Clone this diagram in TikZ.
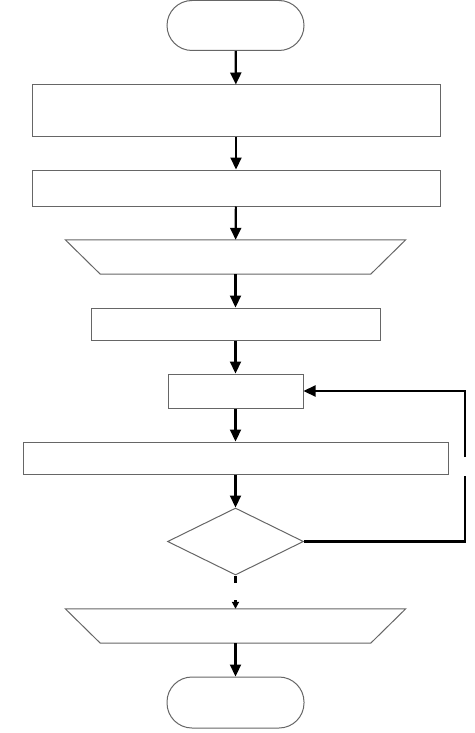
\documentclass[tikz,border=0pt]{standalone}
\usetikzlibrary{shapes.geometric,arrows.meta}

\begin{document}
\begin{tikzpicture}[
  x=1pt, y=-1pt,
  shp/.style     = {draw=black!60, line width=1pt, inner sep=0pt, fill=white},
  term/.style    = {shp, rounded corners=25pt, minimum width=137pt},
  box/.style     = {shp, rectangle},
  io/.style      = {rectangle, inner sep=0pt, minimum width=340pt, minimum height=34pt},
  dec/.style     = {shp, diamond, aspect=2, minimum width=136pt, minimum height=67pt},
  conn/.style    = {line width=2.2pt},
  arr/.style     = {conn, -{Triangle[length=12pt,width=11pt]}},
  smallarr/.style= {conn, -{Triangle[length=7pt,width=7pt]}},
]
\useasboundingbox (0,0) rectangle (474,733);

%%────────── nodes, top to bottom ────────────────────────────
\node[term, minimum height=50pt]           (start) at (235.5, 25.5) {};
\node[box, minimum width=408pt, minimum height=51pt] (b1) at (236, 110.5) {};
\node[box, minimum width=408pt, minimum height=36pt] (b2) at (236, 188) {};
\node[io]                                  (in1)   at (235.5, 257) {};
\node[box, minimum width=289pt, minimum height=32pt] (b3) at (235.5, 324) {};
\node[box, minimum width=135pt, minimum height=34pt] (b4) at (235.5, 391) {};
\node[box, minimum width=425pt, minimum height=32pt] (b5) at (235.5, 458) {};
\node[dec]                                 (test)  at (235.5, 541.5) {};
\node[io]                                  (out1)  at (235.5, 626) {};
\node[term, minimum height=51pt]           (stop)  at (235.5, 702.5) {};

%% trapezoid outlines round the two io nodes
\foreach \t in {in1, out1}
  \draw[shp] (\t.north west) -- (\t.north east)
    -- ([xshift=-35pt]\t.south east) -- ([xshift=35pt]\t.south west) -- cycle;

%%────────── gaps in two connectors ──────────────────────────
\coordinate (downA) at (235.5, 583);
\coordinate (downB) at (235.5, 600);
\coordinate (loopB) at (465, 476);
\coordinate (loopT) at (465, 457);

%%────────── connectors ──────────────────────────────────────
\draw[arr] (start) -- (b1);
\draw[arr] (b1)    -- (b2);
\draw[arr] (b2)    -- (in1);
\draw[arr] (in1)   -- (b3);
\draw[arr] (b3)    -- (b4);
\draw[arr] (b4)    -- (b5);
\draw[arr] (b5)    -- (test);
\draw[conn]     (test.south) -- (downA);
\draw[smallarr] (downB) -- (out1.north);
\draw[arr] (out1)  -- (stop);
\draw[conn] (test.east) -| (loopB);
\draw[arr]  (loopT) |- (b4.east);

\end{tikzpicture}
\end{document}
